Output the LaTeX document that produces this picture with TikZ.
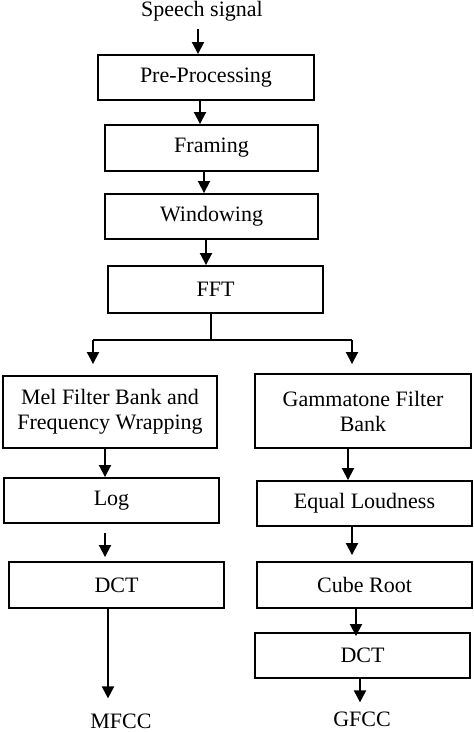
\documentclass[tikz,border=0pt]{standalone}
\usepackage{fontspec}
\setmainfont{Liberation Serif}
\usetikzlibrary{arrows.meta,calc}
\begin{document}
\begin{tikzpicture}[x=1pt,y=-1pt,
  box/.style={draw,line width=1.9pt,inner sep=0pt,align=center,font=\fontsize{22}{25}\selectfont},
  lbl/.style={inner sep=0pt,font=\fontsize{22}{25}\selectfont},
  conn/.style={line width=1.9pt},
  arr/.style={line width=1.9pt,-{Triangle[width=12pt,length=12pt]}}]
\useasboundingbox (0,0) rectangle (474,732);
% nodes
\node[lbl] (sp) at (202,11.5) {Speech signal};
\node[box,minimum width=216pt,minimum height=45pt] (pre) at (206,77.5) {Pre-Processing};
\node[box,minimum width=213pt,minimum height=46pt] (fra) at (211.5,148) {Framing};
\node[box,minimum width=213pt,minimum height=45pt] (win) at (211.5,216.5) {Windowing};
\node[box,minimum width=215pt,minimum height=47pt] (fft) at (215.5,289.5) {FFT};
\node[box,minimum width=214pt,minimum height=72pt] (mel) at (110,412) {Mel Filter Bank and\\Frequency Wrapping};
\node[box,minimum width=216pt,minimum height=74pt] (gam) at (363,411) {Gammatone Filter\\Bank};
\node[box,minimum width=215pt,minimum height=45pt] (log) at (111.5,500.5) {Log};
\node[box,minimum width=215pt,minimum height=45pt] (eql) at (364.5,503.5) {Equal Loudness};
\node[box,minimum width=215pt,minimum height=46pt] (dctA) at (116.5,585) {DCT};
\node[box,minimum width=215pt,minimum height=46pt] (cube) at (364.5,585) {Cube Root};
\node[box,minimum width=215pt,minimum height=45pt] (dctB) at (362.5,655.5) {DCT};
\node[lbl] (mfcc) at (121,721) {MFCC};
\node[lbl] (gfcc) at (362,719) {GFCC};
% connectors
\coordinate (s1) at ($(sp.south)+(-4,7)$);
\draw[arr] (s1) -- (s1 |- pre.north);
\coordinate (p1) at ($(pre.south)+(-6,0)$);
\draw[arr] (p1) -- (p1 |- fra.north);
\coordinate (f1) at ($(fra.south)+(-7.5,0)$);
\draw[arr] (f1) -- (f1 |- win.north);
\coordinate (w1) at ($(win.south)+(-5.5,0)$);
\draw[arr] (w1) -- (w1 |- fft.north);
\coordinate (t1) at ($(fft.south)+(-4.5,0)$);
\coordinate (br) at ($(t1)+(0,26)$);
\draw[conn] (t1) -- (br);
\coordinate (bL) at ($(br -| mel.north)+(-17,0)$);
\coordinate (bR) at ($(br -| gam.north)+(-11,0)$);
\draw[conn] (bL) -- (bR);
\draw[arr] (bL) -- ($(bL |- mel.north)+(0,-11)$);
\draw[arr] (bR) -- ($(bR |- gam.north)+(0,-9)$);
\coordinate (m1) at ($(mel.south)+(-5,0)$);
\draw[arr] (m1) -- (m1 |- log.north);
\coordinate (g1) at ($(gam.south)+(-15,0)$);
\draw[arr] (g1) -- (g1 |- eql.north);
\coordinate (l1) at ($(log.south)+(-6.5,9)$);
\draw[arr] (l1) -- ($(l1 |- dctA.north)+(0,-4)$);
\coordinate (d1) at ($(dctA.south)+(-8.5,0)$);
\draw[arr] (d1) -- ($(d1 |- mfcc.north)+(0,-15)$);
\coordinate (e1) at ($(eql.south)+(-12.5,0)$);
\draw[arr] (e1) -- ($(e1 |- cube.north)+(0,-6)$);
\coordinate (c1) at ($(cube.south)+(-8.5,0)$);
\draw[arr] (c1) -- ($(c1 |- dctB.north)+(0,4)$);
\coordinate (d2) at ($(dctB.south)+(-2.5,0)$);
\draw[arr] (d2) -- ($(d2 |- gfcc.north)+(0,-9)$);
\end{tikzpicture}
\end{document}
